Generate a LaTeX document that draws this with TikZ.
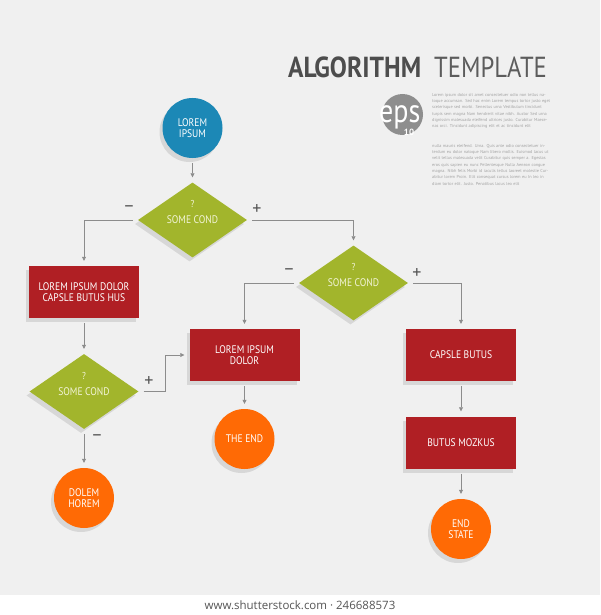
\documentclass[tikz,border=0pt]{standalone}
\usepackage{fontspec}
\setmainfont{PT Sans}
\newfontfamily\dinfont{PT Sans}[FakeStretch=0.87]
\newfontfamily\titlefont{PT Sans}[FakeStretch=0.85]
\newfontfamily\titleboldfont{PT Sans Bold}[FakeStretch=0.88]
\newfontfamily\footfont{Open Sans}
\usetikzlibrary{arrows.meta,positioning,shapes.geometric,shadows}

\definecolor{bgcol}{HTML}{F0F0F0}
\definecolor{startblue}{HTML}{1C88B6}
\definecolor{condgreen}{HTML}{A2B52C}
\definecolor{boxred}{HTML}{B01F24}
\definecolor{endorange}{HTML}{FF6A05}
\definecolor{linegray}{HTML}{8C8C8C}
\definecolor{signgray}{HTML}{555555}
\definecolor{titledark}{HTML}{4D4D4D}
\definecolor{titlelight}{HTML}{5C5C5C}
\definecolor{epsgray}{HTML}{8E8E8E}
\definecolor{loremgray}{HTML}{A2A2A2}
\definecolor{condtext}{HTML}{F2F4D8}

\tikzstyle{softshadow} = [drop shadow={shadow xshift=-3pt,shadow yshift=-4pt,
	opacity=0.1,fill=black}]
\tikzstyle{nodefont} = [font={\dinfont\fontsize{11}{11}\selectfont}]
\tikzstyle{procbox} = [fill=boxred,text=white,align=center,inner sep=0pt,
	minimum width=110pt,minimum height=52pt,nodefont,softshadow]
\tikzstyle{condbox} = [diamond,fill=condgreen,text=condtext,inner sep=0pt,
	minimum width=109pt,minimum height=75pt,nodefont,softshadow]
\tikzstyle{startcirc} = [circle,fill=startblue,text=white,align=center,
	inner sep=0pt,minimum size=60pt,nodefont,softshadow]
\tikzstyle{endcirc} = [circle,fill=endorange,text=white,align=center,
	inner sep=0pt,minimum size=60pt,nodefont,softshadow]
\tikzstyle{qmark} = [text=condtext,inner sep=0pt,font={\dinfont\fontsize{10}{10}\selectfont}]
\tikzstyle{sign} = [text=signgray,inner sep=0pt,font=\fontsize{18}{18}\selectfont]
\tikzstyle{flow} = [draw=linegray,line width=0.7pt,-{Triangle[width=4pt,length=4pt]},
	shorten <=5pt,shorten >=5pt]
\tikzstyle{loremtext} = [anchor=north west,text=loremgray,inner sep=0pt,
	text width=120pt,align=left,font=\fontsize{4.3}{6.3}\selectfont]

\begin{document}
\begin{tikzpicture}[x=1pt,y=-1pt]
			\useasboundingbox (0,0) rectangle (600,615);
			\fill[bgcol] (0,0) rectangle (600,595);
			\fill[white] (0,595) rectangle (600,615);

			% Title
			\node[anchor=base west,inner sep=0pt,text=titledark,
			font={\titleboldfont\fontsize{29}{29}\selectfont}] (title0) at (288,78) {ALGORITHM};
			\node[anchor=base west,inner sep=0pt,text=titlelight,
			font={\titlefont\fontsize{29}{29}\selectfont}] (title1) at (434,78) {TEMPLATE};

			% Badge
			\node[circle,fill=epsgray,minimum size=41pt,inner sep=0pt] (badge) at (402.5,114.5) {};
			\node[anchor=base west,inner sep=0pt,text=white,
			font={\titlefont\fontsize{33}{33}\selectfont}] (eps) at (379,122) {eps};
			\node[inner sep=0pt,text=white,
			font={\bfseries\fontsize{9}{9}\selectfont}] (ten) at (409,132) {10};

			% Lorem text
			\node[loremtext] (text0) at (432,93) {Lorem ipsum dolor sit amet consectetuer odio non tellus
			natoque accumsan. Sed hac enim Lorem tempus tortor justo eget scelerisque sed morbi.
			Senectus urna Vestibulum tincidunt turpis sem magna Nam hendrerit vitae nibh. Auctor
			Sed urna dignissim malesuada eleifend ultrices justo. Curabitur Maecenas orci.
			Tincidunt adipiscing elit et ac tincidunt elit};
			\node[loremtext] (text1) at (432,144) {nulla mauris eleifend. Urna. Quis ante odio consectetuer
			interdum eu dolor natoque Nam libero mollis. Euismod lacus ut velit tellus malesuada
			velit Curabitur quis semper a. Egestas eros quis sapien eu nunc Pellentesque Nulla
			Aenean congue magna. Nibh felis Morbi id iaculis tellus laoreet molestie Curabitur
			lorem Proin. Elit consequat cursus lorem eu In leo in diam tortor elit. Justo.
			Penatibus lacus leo elit};

			% Flow nodes
			\node[startcirc] (start) at (192.5,128) {LOREM\\IPSUM};
			\node[condbox] (cond0) at (192.5,220) {SOME COND};
			\node[procbox] (block0) at (84,292) {LOREM IPSUM DOLOR\\CAPSLE BUTUS HUS};
			\node[condbox] (cond1) at (353.5,283) {SOME COND};
			\node[procbox] (block1) at (244.5,355) {LOREM IPSUM\\DOLOR};
			\node[procbox] (block2) at (461,355) {CAPSLE BUTUS};
			\node[condbox] (cond2) at (84,391.5) {SOME COND};
			\node[endcirc] (end0) at (84,498) {DOLEM\\HOREM};
			\node[endcirc] (end1) at (244.5,439) {THE END};
			\node[procbox] (block3) at (461,442.5) {BUTUS MOZKUS};
			\node[endcirc] (end2) at (461,529) {END\\STATE};

			\node[qmark] (q0) at ([yshift=16pt]cond0.center) {?};
			\node[qmark] (q1) at ([yshift=16pt]cond1.center) {?};
			\node[qmark] (q2) at ([yshift=16pt]cond2.center) {?};

			% Signs
			\node[sign] (minus0) at (129,209) {–};
			\node[sign] (plus0) at (257,210) {+};
			\node[sign] (minus1) at (289,272) {–};
			\node[sign] (plus1) at (417,274) {+};
			\node[sign] (plus2) at (149,382) {+};
			\node[sign] (minus2) at (97,438) {–};

			% Arrows
			\draw[flow] (start.south) -- (cond0.north);
			\draw[flow] (cond0.west) -| (block0.north);
			\draw[flow] (cond0.east) -| (cond1.north);
			\draw[flow] (cond1.west) -| (block1.north);
			\draw[flow] (cond1.east) -| (block2.north);
			\draw[flow] (block0.south) -- (cond2.north);
			\draw[flow] (cond2.east) -- ++(27,0) |- (block1.west);
			\draw[flow] (cond2.south) -- (end0.north);
			\draw[flow] (block1.south) -- (end1.north);
			\draw[flow] (block2.south) -- (block3.north);
			\draw[flow] (block3.south) -- (end2.north);

			% Footer
			\node[text=signgray,inner sep=0pt,
			font={\footfont\fontsize{11.5}{11.5}\selectfont}] (footer) at (300,605) {www.shutterstock.com · 246688573};
		\end{tikzpicture}
\end{document}
